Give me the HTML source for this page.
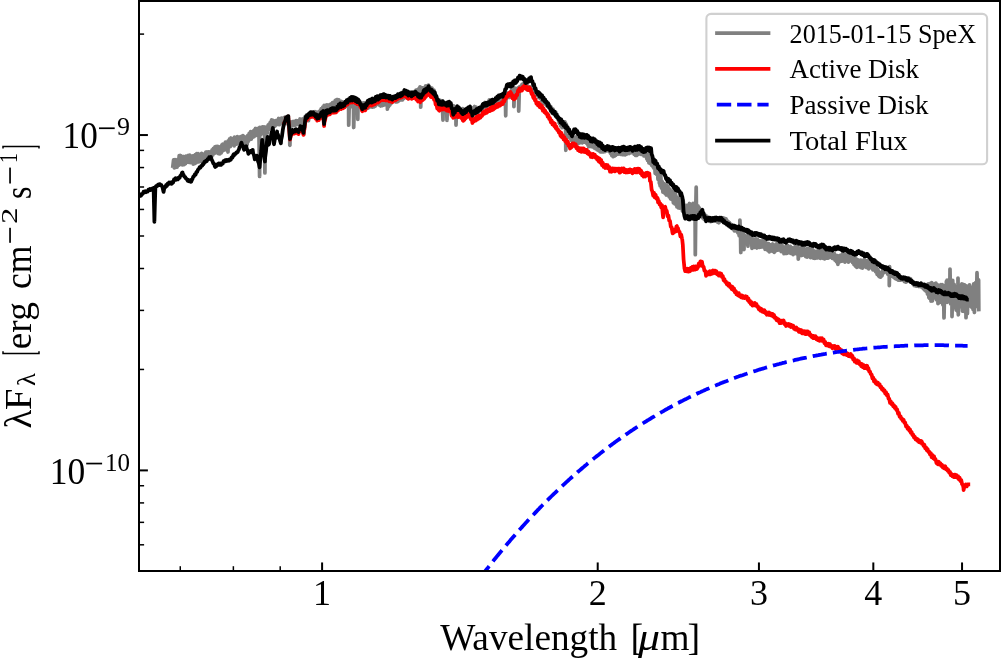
<!DOCTYPE html>
<html><head><meta charset="utf-8"><style>
html,body{margin:0;padding:0;background:#fff;width:1001px;height:658px;overflow:hidden}
svg{display:block;will-change:transform}
text{font-family:"Liberation Serif",serif;fill:#000}
</style></head><body>
<svg width="1001" height="658" viewBox="0 0 1001 658">
<defs><clipPath id="ax"><rect x="138.4" y="1.3" width="861.6" height="569.9000000000001"/></clipPath></defs>
<rect width="1001" height="658" fill="#fff"/>
<g clip-path="url(#ax)" fill="none" stroke-linejoin="round">
<path d="M172.9,166.0 L173.6,159.9 L174.3,167.9 L175.0,159.6 L175.7,167.3 L176.4,160.4 L177.1,167.1 L177.8,159.4 L178.5,165.4 L179.2,155.7 L179.9,163.2 L180.6,155.5 L181.3,164.7 L182.0,158.4 L182.7,164.8 L183.4,156.5 L184.1,164.7 L184.8,156.8 L185.5,163.7 L185.9,156.2 L186.2,161.6 L186.9,156.1 L187.6,162.1 L188.3,155.5 L189.0,162.3 L189.7,155.2 L190.4,162.6 L191.1,157.1 L191.8,162.4 L192.5,156.0 L193.2,164.1 L193.9,155.7 L194.6,163.7 L195.3,154.7 L196.0,162.8 L196.7,153.6 L197.4,161.8 L198.1,153.7 L198.8,161.8 L199.5,155.3 L200.0,161.6 L200.2,154.3 L200.9,161.1 L201.6,153.3 L202.3,160.4 L203.0,154.3 L203.7,160.2 L204.4,153.9 L205.1,158.9 L205.8,152.1 L206.5,158.0 L207.2,152.0 L207.9,158.1 L208.6,151.9 L209.3,158.0 L210.0,152.0 L210.7,157.8 L211.4,151.9 L211.4,157.5 L212.1,149.8 L212.8,155.0 L213.5,148.3 L214.2,153.4 L214.9,147.0 L215.6,152.8 L216.3,146.5 L217.0,152.5 L217.7,146.4 L218.4,153.6 L219.1,147.0 L219.8,153.8 L220.5,146.6 L221.2,152.8 L221.9,144.8 L222.6,150.9 L222.8,144.1 L223.3,150.4 L224.0,144.4 L224.7,149.8 L225.4,142.1 L226.1,148.9 L226.8,142.4 L227.5,147.7 L228.0,152.0 L228.2,140.8 L228.9,146.3 L229.6,138.8 L230.3,145.4 L230.3,146.6 L231.0,138.0 L231.7,144.7 L232.4,139.3 L233.1,144.3 L233.8,139.2 L234.2,145.9 L234.5,137.1 L235.2,144.5 L235.9,138.1 L236.6,144.1 L237.3,136.7 L238.0,143.4 L238.7,137.5 L239.4,142.9 L240.1,137.0 L240.8,143.4 L241.5,136.3 L242.2,142.3 L242.9,135.7 L243.6,142.4 L244.3,136.5 L245.0,142.9 L245.6,137.5 L245.7,143.2 L246.4,137.3 L247.1,144.6 L247.8,135.3 L248.5,141.1 L249.2,133.4 L249.9,139.1 L250.6,131.7 L251.3,139.1 L252.0,131.8 L252.7,137.2 L253.4,130.9 L254.1,136.7 L254.7,129.7 L254.8,134.8 L255.5,128.5 L256.2,135.4 L256.9,128.6 L257.6,134.7 L258.3,128.4 L259.0,136.0 L259.6,176.4 L259.7,127.3 L260.4,134.8 L261.1,127.5 L261.8,133.5 L262.5,126.8 L263.2,133.7 L263.9,126.8 L264.6,134.8 L264.9,172.9 L265.3,127.2 L266.0,132.8 L266.7,127.4 L267.4,133.0 L268.1,125.2 L268.4,130.1 L268.8,124.3 L269.5,128.6 L270.2,122.4 L270.9,125.9 L271.6,119.9 L272.3,126.9 L273.0,120.3 L273.7,126.3 L274.4,121.6 L275.1,126.1 L275.8,120.7 L276.5,124.7 L277.2,120.3 L277.9,124.0 L278.6,118.5 L279.3,124.7 L280.0,118.6 L280.7,123.7 L281.4,118.1 L282.0,122.9 L282.1,118.9 L282.8,123.5 L283.5,117.8 L284.2,122.7 L284.9,117.2 L285.6,122.8 L286.3,118.4 L287.0,123.6 L287.7,120.0 L288.0,124.4 L288.4,121.9 L289.1,125.6 L289.8,122.1 L289.8,145.1 L289.9,145.2 L290.5,125.2 L291.2,122.0 L291.9,125.6 L292.6,122.8 L293.0,125.7 L293.3,121.5 L294.0,125.3 L294.7,121.3 L295.4,125.2 L296.1,120.7 L296.8,124.2 L297.5,120.8 L298.2,124.4 L298.9,120.5 L299.6,123.8 L300.0,119.0 L300.3,123.1 L301.0,119.4 L301.7,122.6 L302.4,119.2 L303.1,122.9 L303.8,118.3 L304.0,134.3 L304.5,120.7 L305.2,116.5 L305.9,118.6 L306.6,114.9 L306.7,118.9 L307.3,115.0 L308.0,117.7 L308.5,120.7 L308.7,114.9 L309.4,117.9 L310.1,113.4 L310.8,116.9 L311.5,113.9 L312.2,116.8 L312.9,113.3 L313.6,116.0 L314.3,112.0 L315.0,114.9 L315.0,111.5 L315.7,116.0 L316.4,112.1 L317.1,115.6 L317.8,112.3 L318.5,115.5 L319.2,111.4 L319.9,115.3 L320.6,109.9 L321.3,113.8 L321.3,108.6 L322.0,111.8 L322.7,107.2 L323.4,109.8 L324.1,105.5 L324.8,109.3 L325.5,105.5 L326.2,109.0 L326.9,104.8 L327.6,108.8 L328.3,105.6 L329.0,109.3 L329.7,104.6 L330.4,108.8 L331.1,103.8 L331.8,107.9 L332.5,102.7 L333.2,106.6 L333.9,102.4 L334.6,104.8 L335.3,100.4 L336.0,103.9 L336.7,99.7 L337.4,103.2 L337.7,99.6 L338.1,103.0 L338.8,99.9 L339.5,104.2 L340.2,101.3 L340.9,104.6 L341.6,101.5 L342.3,106.1 L343.0,102.3 L343.7,106.4 L344.4,102.4 L345.1,105.9 L345.8,102.3 L346.5,106.0 L346.9,101.8 L347.2,105.8 L347.9,101.8 L348.6,105.3 L348.7,125.2 L349.3,102.1 L350.0,106.8 L350.7,103.0 L351.4,106.7 L352.1,103.1 L352.8,106.7 L353.5,103.8 L353.7,127.5 L354.2,106.8 L354.9,103.5 L355.6,107.3 L356.3,103.6 L357.0,106.5 L357.7,102.9 L357.8,119.3 L358.0,106.5 L358.4,101.8 L359.1,106.3 L359.8,102.0 L360.5,107.0 L361.2,103.1 L361.9,106.0 L362.6,103.1 L363.3,106.6 L364.0,102.9 L364.7,106.2 L365.4,102.9 L366.1,108.2 L366.8,104.2 L367.5,108.3 L368.2,104.6 L368.9,106.6 L369.1,101.8 L369.1,107.5 L369.6,105.4 L370.3,102.3 L371.0,106.7 L371.7,103.4 L372.4,107.2 L373.1,103.9 L373.8,106.9 L374.5,102.0 L375.2,106.2 L375.9,101.4 L376.6,104.4 L377.3,100.3 L378.0,104.4 L378.7,100.2 L379.4,105.0 L380.1,101.4 L380.8,106.0 L381.5,102.3 L382.2,105.7 L382.9,102.0 L383.6,105.2 L384.3,101.6 L385.0,104.6 L385.7,101.3 L386.4,105.0 L387.1,102.4 L387.4,106.7 L387.4,109.2 L387.8,103.0 L388.5,106.8 L389.2,102.0 L389.9,105.1 L390.6,100.3 L391.3,103.2 L392.0,98.6 L392.7,101.2 L393.4,97.8 L394.1,100.9 L394.8,97.6 L395.5,101.8 L396.2,98.7 L396.9,101.9 L397.6,97.9 L398.3,101.3 L399.0,96.9 L399.7,100.2 L400.4,96.8 L401.1,99.9 L401.8,95.8 L402.5,99.9 L403.2,95.6 L403.8,98.5 L403.9,94.0 L404.6,96.6 L405.3,93.2 L406.0,96.3 L406.7,92.5 L407.4,96.2 L408.1,92.5 L408.8,96.3 L409.5,92.0 L410.2,95.7 L410.9,91.9 L411.6,96.6 L412.3,93.1 L413.0,96.0 L413.7,92.4 L414.4,95.4 L415.1,91.1 L415.8,94.8 L416.0,90.2 L416.5,93.9 L417.2,89.8 L417.9,93.2 L418.6,88.9 L419.3,91.9 L420.0,86.8 L420.7,91.0 L420.7,107.2 L421.4,87.6 L422.1,90.5 L422.8,88.0 L423.5,91.0 L424.2,87.8 L424.9,90.2 L425.6,86.0 L426.3,89.5 L427.0,86.0 L427.7,89.8 L428.4,85.2 L428.4,89.4 L429.1,86.2 L429.8,90.4 L430.5,87.6 L431.2,91.4 L431.9,88.1 L432.6,93.4 L433.3,90.0 L434.0,94.1 L434.0,90.1 L434.7,96.0 L435.4,94.2 L436.1,99.7 L436.8,97.6 L437.5,103.2 L437.8,100.1 L438.2,103.5 L438.9,100.1 L439.6,103.9 L440.3,100.4 L441.0,105.0 L441.7,101.2 L442.4,106.3 L443.0,120.1 L443.1,104.5 L443.8,109.0 L444.5,106.8 L445.2,110.3 L445.9,107.0 L446.0,110.1 L446.6,106.5 L447.0,120.4 L447.3,109.0 L448.0,105.8 L448.7,109.4 L449.4,105.5 L450.1,108.5 L450.8,105.4 L451.5,108.8 L452.2,105.4 L452.9,109.9 L453.6,105.8 L454.3,110.9 L455.0,107.3 L455.7,111.5 L456.0,107.7 L456.0,125.1 L456.4,112.1 L457.1,108.9 L457.8,113.3 L458.5,109.4 L459.2,113.3 L459.9,109.6 L460.6,112.8 L461.3,109.2 L462.0,112.4 L462.7,108.7 L463.4,113.1 L464.1,109.9 L464.8,113.7 L465.5,110.4 L466.0,114.8 L466.2,110.4 L466.9,114.0 L467.6,109.9 L468.3,114.2 L469.0,110.2 L469.7,113.7 L470.4,110.0 L471.1,113.7 L471.8,109.5 L472.5,112.6 L473.2,107.7 L473.9,110.9 L474.6,106.5 L475.3,111.6 L476.0,107.1 L476.7,111.4 L477.4,108.5 L478.1,112.8 L478.8,108.9 L479.5,111.3 L480.2,107.2 L480.9,110.0 L481.6,105.9 L482.3,109.2 L483.0,104.4 L483.0,108.0 L483.7,103.7 L484.4,107.2 L485.1,102.5 L485.8,107.0 L486.5,103.2 L487.2,105.8 L487.9,102.1 L488.6,104.9 L489.3,99.8 L490.0,103.6 L490.7,99.9 L491.4,103.2 L492.1,99.7 L492.8,103.3 L493.5,99.8 L494.0,104.7 L494.2,101.2 L494.9,105.1 L495.6,101.7 L496.3,104.1 L497.0,100.5 L497.7,103.5 L498.4,99.0 L499.1,102.0 L499.8,97.4 L500.5,100.0 L501.2,95.8 L501.9,99.5 L502.6,94.3 L503.3,97.4 L503.7,94.0 L504.0,97.2 L504.7,92.7 L505.4,96.2 L505.7,115.8 L506.1,92.3 L506.8,96.7 L507.5,93.9 L508.2,97.3 L508.9,93.0 L509.6,97.4 L510.3,92.5 L511.0,94.6 L511.7,89.6 L512.4,92.5 L513.0,87.9 L513.1,91.0 L513.8,86.9 L513.9,106.6 L514.5,91.1 L515.2,89.0 L515.9,92.8 L516.6,88.6 L517.3,92.1 L518.0,87.8 L518.7,91.4 L518.7,111.1 L519.4,87.0 L520.1,89.9 L520.8,86.1 L521.5,88.5 L522.0,84.5 L522.2,88.4 L522.9,83.9 L523.6,87.4 L524.3,83.8 L525.0,87.9 L525.7,84.7 L526.4,88.2 L527.1,85.1 L527.8,90.1 L528.5,86.5 L529.2,90.1 L529.9,86.9 L530.6,91.0 L531.0,88.0 L531.3,92.5 L532.0,89.0 L532.7,93.2 L533.4,89.8 L534.1,94.1 L534.8,90.4 L535.5,94.2 L536.2,90.8 L536.9,95.0 L537.6,92.2 L538.3,97.2 L539.0,93.9 L539.7,97.8 L540.0,93.7 L540.4,98.5 L541.1,96.0 L541.8,101.0 L542.5,98.4 L543.2,103.1 L543.9,99.5 L544.6,103.5 L545.3,100.3 L546.0,105.0 L546.7,102.0 L547.4,106.3 L548.1,102.8 L548.8,107.1 L549.5,105.2 L550.2,109.2 L550.9,106.9 L551.6,111.3 L551.6,108.1 L552.3,112.8 L553.0,109.1 L553.7,113.9 L554.4,111.4 L555.1,114.9 L555.8,112.2 L556.5,117.2 L557.2,114.5 L557.9,119.3 L558.6,118.0 L559.3,123.3 L560.0,121.4 L560.7,125.9 L561.4,123.8 L562.1,127.7 L562.8,123.9 L563.5,126.4 L564.2,122.1 L564.9,125.6 L565.0,121.9 L565.6,126.1 L565.8,150.3 L566.3,124.1 L567.0,130.5 L567.7,128.0 L568.4,134.5 L569.1,133.2 L569.8,138.0 L570.5,135.5 L571.2,140.1 L571.9,137.2 L572.0,140.1 L572.6,136.4 L573.3,140.6 L574.0,136.0 L574.7,139.8 L575.4,137.2 L576.1,141.4 L576.8,138.5 L577.5,143.6 L578.2,140.6 L578.9,143.1 L579.1,138.9 L579.6,142.2 L580.3,137.9 L581.0,142.6 L581.7,138.3 L582.4,142.8 L583.1,138.2 L583.8,142.2 L584.5,138.8 L585.2,142.1 L585.9,139.0 L586.6,143.2 L587.3,141.0 L588.0,145.2 L588.2,142.6 L588.7,146.7 L589.4,142.3 L590.1,146.3 L590.8,143.3 L591.5,146.7 L592.2,143.2 L592.9,146.9 L593.6,143.5 L594.3,147.9 L595.0,144.5 L595.7,148.6 L596.4,145.9 L597.1,149.6 L597.3,145.8 L597.8,150.0 L598.5,146.6 L599.2,150.9 L599.9,147.4 L600.6,151.9 L601.3,147.4 L602.0,151.8 L602.7,147.7 L603.4,151.9 L604.1,148.6 L604.8,151.7 L605.5,147.3 L606.2,150.8 L606.9,147.0 L607.6,150.5 L608.3,147.1 L609.0,151.1 L609.7,149.4 L610.4,153.1 L611.1,150.5 L611.8,155.6 L612.5,152.6 L613.2,156.6 L613.9,152.4 L614.6,156.0 L615.3,152.8 L615.6,155.3 L616.0,151.2 L616.7,154.3 L617.4,150.1 L618.1,154.2 L618.8,150.9 L619.5,153.9 L620.2,150.4 L620.9,154.3 L621.6,150.0 L622.3,154.5 L623.0,150.6 L623.7,154.6 L624.4,150.4 L625.1,154.8 L625.8,151.4 L626.5,154.1 L627.2,150.4 L627.9,153.1 L628.6,149.5 L629.3,153.5 L630.0,148.5 L630.7,152.7 L631.4,148.1 L632.1,152.5 L632.8,149.3 L633.5,153.1 L633.8,149.6 L634.2,154.4 L634.9,151.4 L635.6,155.4 L636.3,151.2 L637.0,155.3 L637.7,151.0 L638.4,154.1 L639.1,149.7 L639.8,153.3 L640.5,149.4 L641.2,154.4 L641.9,149.2 L642.6,154.6 L643.3,150.3 L644.0,155.9 L644.7,151.0 L645.4,156.2 L646.1,152.5 L646.8,158.7 L647.5,153.0 L647.5,160.3 L648.2,155.5 L648.9,162.8 L649.6,155.6 L650.3,163.5 L651.0,158.0 L651.7,165.4 L652.4,159.3 L653.0,166.9 L653.1,159.8 L653.8,168.0 L654.5,162.4 L655.2,173.4 L655.9,165.7 L656.6,174.4 L657.3,168.0 L658.0,179.3 L658.7,172.4 L659.4,183.5 L660.0,174.3 L660.1,185.8 L660.8,176.3 L661.5,188.1 L662.2,181.7 L662.9,192.2 L663.6,183.3 L664.3,192.8 L665.0,184.2 L665.7,194.1 L666.3,187.2 L666.4,195.0 L667.1,185.3 L667.8,194.4 L668.5,187.6 L669.2,196.9 L669.9,189.0 L670.6,198.8 L671.3,191.1 L672.0,199.6 L672.7,191.7 L673.4,202.9 L674.1,193.4 L674.8,203.9 L675.5,193.6 L676.2,204.9 L676.9,197.2 L676.9,206.8 L677.6,198.9 L678.3,207.9 L679.0,198.2 L679.7,208.2 L680.4,198.0 L681.1,207.2 L681.8,198.9 L682.5,211.1 L683.2,200.8 L683.9,211.7 L684.0,204.8 L684.6,213.6 L685.3,205.4 L686.0,214.5 L686.7,205.5 L687.4,214.6 L688.1,205.2 L688.8,213.7 L689.5,203.5 L690.2,213.4 L690.9,205.8 L691.6,214.5 L692.0,204.7 L692.3,212.1 L693.0,203.4 L693.7,212.5 L694.4,205.3 L695.1,216.1 L695.3,254.7 L695.8,207.9 L696.2,187.2 L696.5,217.3 L697.2,209.1 L697.9,218.4 L698.0,205.8 L698.6,215.7 L699.3,207.8 L700.0,214.0 L700.7,210.5 L701.4,216.0 L702.1,213.0 L702.8,217.9 L703.5,216.2 L704.2,219.4 L704.9,216.3 L705.0,219.7 L705.6,215.4 L706.3,219.0 L707.0,216.2 L707.7,219.7 L708.4,217.8 L709.1,221.0 L709.8,218.4 L710.5,221.5 L711.2,218.5 L711.9,221.3 L712.6,218.5 L713.3,221.2 L714.0,218.2 L714.7,221.1 L715.4,217.8 L716.1,221.0 L716.8,219.1 L717.5,222.1 L718.2,220.1 L718.9,222.8 L719.5,219.2 L719.6,221.9 L720.3,218.4 L721.0,221.1 L721.7,218.3 L722.4,220.9 L723.1,217.9 L723.8,221.2 L724.5,218.4 L725.2,221.4 L725.9,218.9 L726.0,222.5 L726.6,219.8 L727.3,223.8 L728.0,221.6 L728.7,225.6 L729.4,222.6 L730.1,227.0 L730.8,224.1 L731.5,227.7 L732.2,225.5 L732.9,229.0 L733.6,226.8 L734.3,230.8 L735.0,227.8 L735.7,230.6 L736.4,227.8 L737.0,231.5 L737.1,227.6 L737.8,232.7 L738.5,230.7 L739.2,235.7 L739.9,233.2 L739.9,220.0 L740.6,238.2 L740.8,252.5 L741.0,231.8 L741.3,238.7 L742.0,232.1 L742.7,238.9 L743.4,233.8 L744.0,249.6 L744.1,240.2 L744.8,235.0 L745.4,242.8 L745.5,236.1 L746.2,243.5 L746.9,236.4 L747.6,243.4 L748.0,246.2 L748.3,235.2 L749.0,242.0 L749.7,234.7 L750.4,242.2 L751.1,236.1 L751.8,243.7 L752.0,248.3 L752.5,238.6 L753.2,246.9 L753.9,239.5 L754.5,247.4 L754.6,239.9 L755.3,245.8 L756.0,238.9 L756.7,245.8 L757.0,248.0 L757.4,239.3 L758.1,246.7 L758.8,240.6 L759.5,247.4 L760.2,240.8 L760.9,247.1 L761.6,241.1 L762.3,246.9 L763.0,239.9 L763.7,247.0 L764.4,241.0 L765.1,249.4 L765.8,242.4 L766.5,248.5 L767.2,243.5 L767.9,250.5 L768.6,243.7 L769.3,251.8 L770.0,245.1 L770.7,250.2 L771.4,244.7 L772.1,251.1 L772.7,244.0 L772.8,250.8 L773.5,246.1 L774.2,252.4 L774.9,245.4 L775.6,250.8 L776.3,243.8 L777.0,250.1 L777.7,244.0 L778.4,250.0 L779.1,242.4 L779.8,250.0 L780.5,244.3 L781.2,251.6 L781.9,244.6 L782.6,251.3 L783.3,246.9 L784.0,253.7 L784.7,248.1 L785.4,253.4 L786.1,246.2 L786.8,253.3 L787.5,245.3 L788.2,251.3 L788.9,246.5 L789.6,252.8 L790.3,246.3 L791.0,253.3 L791.0,247.5 L791.7,252.9 L792.4,247.9 L793.1,254.6 L793.8,248.1 L794.5,253.4 L795.2,246.5 L795.9,253.5 L796.6,246.4 L797.3,254.0 L798.0,247.4 L798.3,259.2 L798.7,254.6 L799.4,248.4 L800.1,254.8 L800.8,247.9 L801.5,255.5 L802.2,247.6 L802.9,255.1 L803.6,248.3 L804.3,254.8 L805.0,250.2 L805.7,256.5 L806.4,248.9 L807.1,257.1 L807.8,248.7 L808.5,256.4 L809.2,248.7 L809.2,256.2 L809.9,248.8 L810.6,257.6 L811.3,249.4 L812.0,256.5 L812.7,249.5 L813.4,258.1 L814.1,250.9 L814.8,258.3 L815.5,252.2 L816.2,258.0 L816.9,251.2 L817.6,257.9 L818.3,250.8 L819.0,257.3 L819.7,250.4 L820.4,258.4 L821.1,249.7 L821.8,256.4 L822.5,249.8 L823.2,258.3 L823.9,252.2 L824.6,258.9 L825.3,250.9 L826.0,258.2 L826.7,251.7 L827.4,257.6 L827.5,251.7 L828.1,258.1 L828.8,251.5 L829.5,257.4 L830.2,250.3 L830.9,257.2 L831.6,252.5 L832.3,258.4 L833.0,253.0 L833.7,258.7 L834.4,253.6 L835.1,260.2 L835.8,255.3 L836.5,261.7 L837.2,255.7 L837.9,264.4 L838.6,258.0 L839.3,262.1 L840.0,255.3 L840.7,261.3 L841.4,254.9 L842.1,261.2 L842.8,253.6 L843.5,260.6 L844.2,255.1 L844.9,262.1 L845.6,254.5 L845.7,261.1 L846.3,254.8 L847.0,260.8 L847.7,255.5 L848.4,262.1 L849.1,255.6 L849.8,261.0 L850.5,255.0 L851.2,260.7 L851.9,255.9 L852.6,262.6 L853.3,258.3 L854.0,264.5 L854.7,258.2 L855.4,266.2 L856.1,258.9 L856.8,267.3 L857.5,259.6 L858.2,266.3 L858.9,260.7 L859.6,266.9 L860.3,260.1 L861.0,267.7 L861.7,260.4 L862.4,268.1 L863.1,260.8 L863.8,266.1 L864.5,259.2 L865.2,266.9 L865.9,260.6 L866.6,267.5 L867.3,260.9 L867.6,267.1 L868.0,260.8 L868.7,268.9 L869.4,262.0 L870.1,267.4 L870.8,260.2 L871.5,267.8 L872.2,262.0 L872.9,269.9 L873.6,263.9 L874.3,270.0 L875.0,265.0 L875.7,271.7 L876.4,267.4 L877.1,274.3 L877.8,269.6 L878.4,275.6 L878.5,270.9 L879.2,276.5 L879.9,272.5 L880.6,277.1 L881.3,272.5 L882.0,275.8 L882.7,270.7 L883.4,272.9 L884.1,267.5 L884.8,272.1 L885.5,267.0 L886.2,271.9 L886.9,269.4 L887.6,274.0 L888.3,270.9 L889.0,274.3 L889.3,271.1 L889.3,285.5 L889.6,266.7 L889.7,274.1 L890.4,271.6 L891.1,275.3 L891.8,272.6 L892.5,276.0 L893.2,274.7 L893.9,277.6 L894.6,276.0 L895.3,278.5 L896.0,276.9 L896.7,279.2 L897.4,277.5 L898.1,280.0 L898.8,277.5 L899.5,280.2 L900.2,278.0 L900.9,280.0 L901.6,277.6 L902.0,279.3 L902.3,277.4 L903.0,280.0 L903.7,278.6 L904.4,281.5 L905.1,279.4 L905.8,282.1 L906.5,279.1 L907.2,281.4 L907.9,278.2 L908.6,280.4 L909.3,278.3 L910.0,280.2 L910.7,278.9 L911.4,281.6 L912.1,281.0 L912.8,283.8 L913.5,282.6 L914.2,285.7 L914.9,283.7 L915.0,285.7 L915.6,283.9 L916.3,286.2 L917.0,284.1 L917.7,286.1 L918.4,284.0 L919.1,286.5 L919.8,284.2 L920.5,286.5 L921.2,284.5 L921.9,287.2 L922.6,285.4 L923.3,288.7 L924.0,287.3 L924.7,290.0 L925.4,286.8 L926.1,291.2 L926.8,285.0 L927.5,294.1 L928.2,283.8 L928.9,297.6 L929.0,285.9 L929.6,298.4 L930.3,283.3 L931.0,301.1 L931.7,282.6 L932.4,301.0 L933.1,285.5 L933.8,296.9 L934.5,284.0 L935.2,298.0 L935.9,283.2 L936.6,299.9 L937.3,284.6 L938.0,303.7 L938.0,285.3 L938.7,300.5 L939.4,285.8 L940.1,302.3 L940.8,284.6 L941.5,300.5 L942.2,284.6 L942.9,304.9 L943.6,286.3 L944.0,317.9 L944.3,304.3 L945.0,285.6 L945.7,301.7 L946.4,281.3 L947.0,302.3 L947.1,280.1 L947.8,298.7 L948.5,281.8 L949.2,298.9 L949.9,282.0 L950.0,269.1 L950.6,303.8 L951.3,284.4 L952.0,300.6 L952.0,316.5 L952.7,280.4 L953.4,306.1 L954.1,284.3 L954.8,307.9 L955.5,289.6 L956.2,310.2 L956.9,286.6 L957.6,311.4 L958.0,293.4 L958.0,278.1 L958.3,314.8 L959.0,286.8 L959.7,307.2 L960.4,287.9 L961.1,306.9 L961.8,283.9 L962.5,311.2 L963.2,284.3 L963.9,311.3 L964.6,284.8 L965.0,309.0 L965.3,290.6 L966.0,314.1 L966.0,317.7 L966.7,286.0 L967.4,313.7 L968.1,286.6 L968.8,305.4 L969.5,284.8 L970.2,306.1 L970.9,287.2 L971.6,307.3 L972.3,287.1 L973.0,309.5 L973.7,283.8 L974.4,312.5 L975.0,287.1 L975.1,304.5 L975.8,282.5 L976.5,305.6 L977.0,272.7 L977.2,281.8 L977.9,306.9 L978.6,279.9 L978.8,309.5" stroke="#808080" stroke-width="3.75" stroke-linecap="square"/>
<path d="M284.4,122.9 L285.2,121.5 L285.7,119.7 L286.0,117.8 L286.8,118.8 L287.6,116.8 L288.3,116.6 L288.4,119.5 L289.2,129.2 L289.9,138.5 L290.0,139.6 L290.8,135.8 L291.6,134.5 L292.1,132.9 L292.4,131.5 L293.2,133.8 L294.0,132.4 L294.8,133.4 L295.6,131.2 L295.8,131.1 L296.4,132.9 L297.2,131.8 L298.0,133.8 L298.5,134.0 L298.8,131.5 L299.6,131.7 L300.4,128.2 L301.2,128.3 L301.2,128.3 L302.0,128.9 L302.8,132.7 L303.5,134.9 L303.6,132.1 L304.4,129.5 L305.2,122.3 L305.8,118.7 L306.0,121.0 L306.8,117.6 L307.6,119.2 L308.4,116.2 L309.2,117.5 L310.0,114.7 L310.4,114.3 L310.8,116.9 L311.6,114.2 L312.4,116.5 L313.2,114.2 L314.0,117.1 L314.8,115.9 L315.0,115.9 L315.6,118.7 L316.4,116.4 L317.2,120.6 L318.0,117.8 L318.6,118.0 L318.8,120.2 L319.6,116.8 L320.4,118.2 L321.2,114.3 L322.0,116.4 L322.8,113.4 L323.1,113.1 L323.6,120.5 L324.1,126.0 L324.4,122.1 L325.2,119.6 L325.9,115.4 L326.0,112.6 L326.8,115.7 L327.6,112.2 L328.4,114.7 L329.2,112.2 L330.0,114.3 L330.8,110.8 L331.6,112.5 L332.4,110.1 L333.2,112.8 L333.2,112.8 L334.0,110.1 L334.8,112.6 L335.6,110.1 L336.4,112.2 L337.2,108.7 L338.0,110.6 L338.8,106.3 L339.6,108.2 L340.4,105.4 L341.2,109.1 L342.0,106.3 L342.3,106.2 L342.8,108.4 L343.6,105.3 L344.4,107.5 L345.2,103.7 L346.0,105.2 L346.8,102.0 L346.9,102.0 L347.6,104.6 L348.4,101.4 L349.2,102.7 L350.0,99.9 L350.8,102.5 L351.6,99.0 L352.4,102.5 L353.2,99.0 L354.0,101.7 L354.2,101.6 L354.8,99.5 L355.6,103.2 L356.4,100.2 L357.2,104.1 L358.0,101.4 L358.7,102.1 L358.8,104.7 L359.6,103.6 L360.4,107.1 L361.2,106.3 L362.0,110.7 L362.4,111.3 L362.8,107.9 L363.6,110.3 L364.4,107.5 L365.2,110.4 L366.0,106.3 L366.8,108.0 L367.6,103.8 L368.4,106.0 L369.1,105.4 L369.2,102.8 L370.0,105.4 L370.8,102.5 L371.6,105.6 L372.4,101.5 L373.2,104.9 L374.0,102.0 L374.8,104.3 L375.6,99.9 L376.4,102.9 L377.2,99.2 L378.0,102.7 L378.2,102.6 L378.8,99.2 L379.6,101.4 L380.4,98.1 L381.2,100.2 L382.0,97.9 L382.8,100.1 L383.6,97.1 L384.4,100.2 L385.2,97.7 L386.0,100.5 L386.8,98.5 L387.4,98.5 L387.6,100.4 L388.4,98.5 L389.2,101.4 L390.0,98.7 L390.8,101.5 L391.6,99.6 L392.4,102.2 L393.2,99.0 L393.8,99.1 L394.0,100.5 L394.8,98.5 L395.6,100.3 L396.4,97.8 L397.2,99.2 L398.0,96.0 L398.8,98.1 L399.6,95.4 L400.4,97.8 L401.0,97.3 L401.2,94.4 L402.0,97.3 L402.8,94.7 L403.6,96.4 L404.4,93.0 L405.2,96.3 L406.0,94.4 L406.8,97.9 L407.4,98.1 L407.6,94.9 L408.4,98.8 L409.2,95.6 L410.0,97.9 L410.8,95.6 L411.6,98.9 L412.4,95.2 L413.2,98.1 L414.0,95.6 L414.0,95.6 L414.8,98.0 L415.6,96.3 L416.4,99.7 L417.2,98.5 L418.0,101.5 L418.8,98.9 L419.6,101.8 L420.2,102.2 L420.4,99.9 L421.2,101.0 L422.0,98.2 L422.8,100.1 L423.6,96.8 L424.4,98.7 L425.2,94.9 L426.0,96.7 L426.8,92.7 L427.5,92.0 L427.6,94.1 L428.4,91.4 L429.2,95.1 L430.0,94.1 L430.8,96.9 L431.2,97.1 L431.6,94.9 L432.4,97.4 L433.2,94.8 L433.2,94.8 L434.0,99.7 L434.8,98.7 L435.6,104.5 L436.4,104.5 L436.6,105.2 L437.2,108.5 L438.0,105.9 L438.8,110.1 L439.4,110.7 L439.6,107.5 L440.4,109.7 L440.5,109.5 L441.2,107.0 L442.0,109.6 L442.8,106.0 L443.6,109.3 L444.4,107.2 L445.2,109.5 L446.0,108.0 L446.0,108.0 L446.8,110.7 L447.6,107.4 L448.4,111.0 L449.2,107.4 L450.0,110.0 L450.1,110.0 L450.8,110.6 L451.6,115.8 L452.4,115.8 L452.4,115.8 L453.2,117.7 L454.0,114.3 L454.8,117.1 L455.6,113.4 L456.0,113.0 L456.4,116.2 L457.2,113.9 L458.0,117.2 L458.8,114.0 L459.6,116.7 L460.4,115.2 L461.2,118.0 L462.0,116.4 L462.8,120.5 L463.3,120.8 L463.6,117.5 L464.4,119.8 L465.2,115.6 L466.0,118.2 L466.8,114.7 L467.6,116.9 L468.4,114.2 L469.2,116.0 L469.7,115.8 L470.0,113.7 L470.8,119.3 L471.6,118.6 L472.4,123.0 L472.4,123.0 L473.2,119.5 L474.0,121.3 L474.8,118.1 L475.6,120.6 L476.4,116.6 L477.2,119.7 L478.0,115.9 L478.8,118.6 L479.6,115.5 L479.7,115.4 L480.4,117.8 L481.2,115.2 L482.0,116.0 L482.8,112.5 L483.6,114.0 L484.4,111.3 L485.2,113.4 L486.0,110.3 L486.8,112.7 L487.0,112.6 L487.6,109.6 L488.4,111.4 L489.2,108.8 L490.0,111.0 L490.8,107.4 L491.6,110.3 L492.4,106.5 L493.2,109.7 L494.0,106.7 L494.3,106.5 L494.8,108.4 L495.6,105.3 L496.4,107.3 L497.2,104.5 L498.0,106.8 L498.8,103.8 L499.6,105.7 L500.0,105.6 L500.4,103.4 L501.2,104.7 L502.0,102.2 L502.8,104.0 L503.6,100.1 L503.7,100.0 L504.4,101.3 L505.2,97.5 L506.0,98.3 L506.8,95.3 L507.6,96.5 L508.4,93.7 L509.2,95.5 L510.0,92.4 L510.5,91.9 L510.8,95.7 L511.6,93.7 L512.4,98.3 L513.2,95.7 L513.9,96.9 L514.0,99.5 L514.8,96.1 L515.6,98.2 L516.4,94.6 L517.2,95.2 L518.0,90.7 L518.7,89.7 L518.8,91.5 L519.6,88.3 L520.4,91.0 L521.2,88.3 L522.0,90.5 L522.8,86.9 L523.6,88.1 L524.2,87.5 L524.4,85.4 L525.2,88.4 L526.0,86.0 L526.8,89.5 L527.6,87.5 L528.4,90.1 L529.2,87.4 L529.7,87.7 L530.0,90.2 L530.8,89.3 L531.6,94.0 L532.4,93.3 L533.2,97.3 L533.8,98.4 L534.0,96.0 L534.8,100.1 L535.6,99.7 L536.4,103.6 L537.2,102.6 L538.0,105.4 L538.8,102.7 L539.6,107.0 L540.4,104.6 L540.6,104.8 L541.2,107.8 L542.0,106.0 L542.8,110.6 L543.6,108.4 L544.4,112.2 L545.2,110.7 L546.0,113.9 L546.8,113.0 L547.5,114.0 L547.6,116.8 L548.4,115.0 L549.2,118.8 L550.0,118.1 L550.8,122.1 L551.6,120.5 L552.4,124.3 L553.2,122.4 L554.0,125.7 L554.3,126.1 L554.8,123.7 L555.6,128.0 L556.4,126.7 L557.2,130.1 L558.0,129.4 L558.8,132.6 L559.6,131.3 L560.4,135.5 L561.1,136.5 L561.2,132.6 L562.0,137.3 L562.8,135.2 L563.6,139.3 L564.4,137.3 L565.2,141.2 L566.0,139.5 L566.8,143.1 L567.6,141.5 L568.0,142.1 L568.4,145.7 L569.2,144.3 L570.0,148.5 L570.0,148.5 L570.8,145.5 L571.6,147.2 L572.4,143.3 L573.2,145.4 L573.6,145.0 L574.0,143.4 L574.8,146.2 L575.6,144.2 L576.4,148.0 L577.2,146.8 L577.3,146.9 L578.0,150.1 L578.8,147.9 L579.6,151.2 L580.4,148.4 L581.2,151.9 L582.0,148.3 L582.8,151.5 L583.6,148.3 L583.7,148.3 L584.4,152.0 L585.2,149.5 L586.0,152.3 L586.8,149.9 L587.6,153.5 L588.2,153.9 L588.4,151.4 L589.2,154.5 L590.0,153.2 L590.8,156.8 L591.6,154.6 L592.4,157.3 L593.2,153.8 L594.0,156.4 L594.8,154.8 L595.6,157.8 L596.4,156.5 L597.2,159.6 L597.3,159.7 L598.0,157.5 L598.8,161.5 L599.6,158.5 L600.4,162.7 L601.2,160.1 L602.0,165.1 L602.8,162.8 L603.6,166.8 L604.4,165.3 L605.2,168.0 L606.0,164.9 L606.5,165.3 L606.8,167.8 L607.6,165.1 L608.4,168.5 L609.2,166.9 L610.0,171.7 L610.8,169.8 L611.0,170.0 L611.6,171.7 L612.4,168.3 L613.2,170.9 L614.0,168.6 L614.8,171.4 L615.6,168.7 L616.4,170.6 L617.2,168.7 L618.0,170.9 L618.8,168.6 L619.6,172.5 L620.1,172.5 L620.4,169.0 L621.2,171.7 L622.0,168.5 L622.8,171.1 L623.6,168.4 L624.4,172.1 L625.2,169.5 L626.0,172.5 L626.8,170.3 L627.6,172.4 L628.4,169.8 L629.2,172.2 L629.3,172.2 L630.0,169.4 L630.8,171.7 L631.6,169.9 L632.4,173.3 L633.2,170.2 L634.0,172.3 L634.8,169.0 L635.6,172.4 L636.4,169.0 L637.2,172.4 L638.0,168.5 L638.4,168.5 L638.8,171.9 L639.6,169.0 L640.4,173.2 L641.2,170.7 L642.0,175.3 L642.8,173.0 L643.6,176.6 L644.4,173.9 L645.0,174.1 L645.2,176.6 L646.0,172.8 L646.8,175.2 L647.6,172.8 L648.4,175.6 L649.2,173.3 L649.3,173.3 L650.0,181.0 L650.8,181.8 L651.6,189.5 L652.4,191.6 L652.4,191.6 L653.2,195.6 L654.0,192.9 L654.8,197.4 L655.6,194.7 L656.4,198.5 L657.2,197.7 L657.8,198.5 L658.0,202.4 L658.8,200.9 L659.6,204.5 L660.4,203.6 L661.2,207.3 L662.0,205.3 L662.0,205.3 L662.8,214.6 L663.1,217.3 L663.6,210.8 L664.4,208.2 L664.5,207.3 L665.2,206.8 L666.0,210.5 L666.3,210.8 L666.8,210.9 L667.6,216.3 L668.4,215.6 L669.2,220.8 L670.0,220.9 L670.8,226.8 L671.6,227.2 L672.4,232.3 L672.7,233.4 L673.2,230.6 L674.0,232.6 L674.8,229.3 L675.6,231.4 L676.4,226.5 L676.9,226.1 L677.2,229.7 L678.0,228.1 L678.8,231.6 L679.6,231.8 L680.4,236.4 L681.2,234.7 L682.0,238.6 L682.2,239.1 L682.8,244.7 L683.6,259.6 L684.4,267.5 L684.4,268.1 L685.2,271.2 L686.0,268.9 L686.8,271.2 L687.6,268.7 L688.4,271.7 L689.2,268.9 L690.0,271.3 L690.8,267.9 L691.6,269.7 L691.8,269.6 L692.4,267.0 L693.2,269.9 L694.0,266.5 L694.8,269.7 L695.6,266.3 L696.4,269.2 L697.1,269.0 L697.2,266.6 L698.0,267.3 L698.8,263.4 L699.6,265.8 L700.4,261.3 L701.2,263.0 L701.4,262.6 L702.0,261.8 L702.8,266.5 L703.6,266.5 L704.4,270.6 L705.2,270.8 L705.6,272.3 L706.0,275.8 L706.8,272.4 L707.6,274.6 L708.4,272.2 L709.2,274.4 L710.0,271.2 L710.8,274.3 L711.6,271.2 L712.4,273.7 L713.2,270.5 L714.0,272.8 L714.8,270.6 L715.6,273.4 L716.4,271.3 L717.2,274.3 L718.0,273.1 L718.8,275.6 L719.5,275.6 L719.6,273.2 L720.4,275.2 L721.2,273.7 L722.0,277.2 L722.8,276.1 L723.6,280.1 L724.4,279.0 L725.2,281.9 L726.0,281.6 L726.8,284.3 L727.6,283.3 L728.0,283.5 L728.4,285.7 L729.2,283.8 L730.0,287.1 L730.8,286.1 L731.6,289.1 L732.4,286.8 L733.2,290.0 L734.0,288.5 L734.8,292.1 L735.6,291.0 L736.2,292.0 L736.4,294.3 L737.2,293.1 L738.0,295.4 L738.8,293.1 L739.6,296.4 L740.4,295.1 L741.2,297.4 L742.0,295.5 L742.8,297.8 L743.6,296.3 L744.4,298.0 L745.2,296.5 L745.4,296.3 L746.0,298.0 L746.8,296.7 L747.6,300.2 L748.4,298.5 L749.2,302.0 L750.0,300.8 L750.8,304.1 L751.6,302.3 L752.4,305.6 L753.2,303.5 L754.0,305.3 L754.5,305.4 L754.8,302.8 L755.6,305.6 L756.4,303.9 L757.2,306.8 L758.0,306.5 L758.8,309.3 L759.6,308.1 L760.4,310.6 L761.2,308.7 L762.0,311.6 L762.8,309.9 L763.6,312.1 L763.6,312.0 L764.4,310.3 L765.2,313.1 L766.0,311.9 L766.8,314.8 L767.6,313.0 L768.4,314.7 L769.2,312.5 L770.0,315.0 L770.8,313.4 L771.6,315.5 L772.4,313.8 L772.7,313.8 L773.2,316.5 L774.0,315.0 L774.8,317.9 L775.6,317.4 L776.0,318.0 L776.4,320.0 L777.2,318.5 L778.0,320.9 L778.8,319.4 L779.6,323.1 L780.4,320.8 L781.2,323.0 L782.0,320.7 L782.8,322.6 L783.6,320.5 L784.4,324.0 L785.2,322.9 L786.0,326.0 L786.8,324.0 L787.6,325.4 L788.4,324.0 L789.2,325.9 L790.0,324.5 L790.8,327.0 L791.2,326.9 L791.6,325.0 L792.4,327.1 L793.2,325.7 L794.0,328.8 L794.8,327.4 L795.6,329.6 L796.4,327.5 L797.2,330.0 L798.0,328.9 L798.8,331.8 L799.6,329.7 L800.4,332.1 L801.2,330.1 L802.0,333.3 L802.8,331.0 L803.6,333.4 L804.4,331.3 L805.2,334.1 L806.0,331.4 L806.4,331.5 L806.8,334.0 L807.6,331.3 L808.4,334.2 L809.2,332.2 L810.0,335.7 L810.8,334.7 L811.6,337.0 L812.4,335.6 L813.2,338.2 L814.0,336.1 L814.8,338.1 L815.6,336.3 L816.4,339.3 L817.2,337.8 L818.0,340.1 L818.8,338.7 L819.6,340.7 L820.4,338.2 L821.2,340.4 L821.6,340.7 L822.0,338.2 L822.8,340.9 L823.6,339.4 L824.4,343.1 L825.2,341.8 L826.0,345.4 L826.8,344.0 L827.6,345.6 L828.4,343.8 L829.2,346.3 L830.0,344.1 L830.8,346.7 L831.6,346.0 L832.4,348.2 L833.2,346.0 L834.0,347.7 L834.8,346.0 L835.6,349.1 L836.4,346.8 L836.8,347.0 L837.2,348.9 L838.0,346.8 L838.8,349.6 L839.6,348.7 L840.4,351.1 L841.2,349.9 L842.0,353.3 L842.8,351.1 L843.6,354.3 L844.4,351.9 L845.2,354.4 L846.0,352.4 L846.8,355.1 L847.6,353.4 L848.4,356.0 L849.2,354.4 L850.0,356.3 L850.8,354.0 L851.6,357.0 L852.0,357.4 L852.4,355.9 L853.2,359.5 L854.0,358.3 L854.8,361.7 L855.6,360.1 L856.4,362.8 L857.2,360.4 L858.0,363.0 L858.8,361.2 L859.6,364.2 L860.4,363.6 L861.2,366.1 L862.0,364.1 L862.8,367.2 L863.6,365.0 L864.4,368.2 L865.2,365.8 L866.0,368.0 L866.8,365.8 L867.2,366.0 L867.6,369.0 L868.4,368.1 L869.2,371.5 L870.0,371.5 L870.8,374.3 L871.6,374.5 L872.4,378.3 L873.2,377.5 L874.0,381.3 L874.8,379.8 L875.6,383.0 L876.3,383.9 L876.4,382.1 L877.2,384.4 L878.0,382.8 L878.8,385.0 L879.6,384.3 L880.4,387.3 L881.2,386.7 L882.0,389.5 L882.8,388.4 L883.6,390.9 L884.4,390.2 L885.2,393.5 L886.0,392.1 L886.8,395.4 L887.6,394.5 L888.4,398.0 L888.5,398.6 L889.2,398.7 L890.0,402.9 L890.8,401.5 L891.6,404.3 L892.4,403.3 L893.2,406.4 L894.0,405.3 L894.8,408.1 L895.6,406.9 L896.4,410.0 L897.2,409.5 L898.0,413.6 L898.8,412.7 L899.6,416.7 L900.4,416.1 L900.6,416.3 L901.2,418.8 L902.0,418.6 L902.8,420.9 L903.6,419.8 L904.4,422.8 L905.2,422.7 L906.0,426.4 L906.8,425.7 L907.6,428.8 L908.4,427.5 L909.2,430.4 L909.7,431.0 L910.0,429.4 L910.8,432.9 L911.6,431.9 L912.4,435.0 L913.2,434.6 L914.0,437.6 L914.8,436.8 L915.6,439.4 L916.4,438.4 L917.2,440.6 L918.0,439.3 L918.8,442.0 L919.6,440.7 L920.4,442.6 L921.2,440.9 L921.9,441.7 L922.0,443.9 L922.8,443.4 L923.6,445.8 L924.4,444.8 L925.2,448.4 L926.0,447.2 L926.8,450.3 L927.6,449.1 L928.4,451.9 L929.2,451.6 L930.0,454.4 L930.8,453.1 L931.6,457.0 L932.4,455.1 L933.2,458.3 L934.0,456.2 L934.8,459.6 L935.6,459.3 L936.4,462.9 L937.1,463.6 L937.2,461.9 L938.0,464.2 L938.8,461.8 L939.6,464.4 L940.4,463.3 L941.2,465.9 L942.0,464.8 L942.8,467.6 L943.6,466.1 L944.4,468.4 L945.2,466.2 L946.0,469.3 L946.8,468.4 L947.6,470.7 L948.4,469.9 L949.2,472.7 L950.0,471.9 L950.8,475.2 L951.6,474.0 L952.3,474.6 L952.4,476.4 L953.2,474.7 L954.0,477.2 L954.8,474.6 L955.6,477.1 L956.4,475.1 L957.2,477.6 L958.0,476.5 L958.0,476.0 L958.8,479.3 L959.6,477.7 L960.4,481.0 L961.2,479.9 L962.0,483.6 L962.0,484.2 L962.8,484.9 L963.5,487.8 L963.6,490.2 L964.4,486.3 L965.0,484.9 L965.2,486.6 L966.0,484.4 L966.8,486.4 L967.6,484.3 L968.3,484.3" stroke="#ff0000" stroke-width="3.75" stroke-linecap="square"/>
<path d="M426.4,656.6 L427.8,654.4 L429.1,652.2 L430.5,650.0 L431.8,647.9 L433.2,645.7 L434.6,643.6 L435.9,641.4 L437.3,639.3 L438.6,637.2 L440.0,635.1 L441.3,633.0 L442.7,631.0 L444.1,628.9 L445.4,626.9 L446.8,624.8 L448.1,622.8 L449.5,620.8 L450.8,618.8 L452.2,616.8 L453.5,614.8 L454.9,612.8 L456.3,610.8 L457.6,608.9 L459.0,606.9 L460.3,605.0 L461.7,603.0 L463.0,601.1 L464.4,599.2 L465.8,597.3 L467.1,595.4 L468.5,593.6 L469.8,591.7 L471.2,589.8 L472.5,588.0 L473.9,586.2 L475.2,584.3 L476.6,582.5 L478.0,580.7 L479.3,578.9 L480.7,577.1 L482.0,575.3 L483.4,573.6 L484.7,571.8 L486.1,570.0 L487.5,568.3 L488.8,566.6 L490.2,564.9 L491.5,563.1 L492.9,561.4 L494.2,559.7 L495.6,558.1 L496.9,556.4 L498.3,554.7 L499.7,553.1 L501.0,551.4 L502.4,549.8 L503.7,548.1 L505.1,546.5 L506.4,544.9 L507.8,543.3 L509.2,541.7 L510.5,540.1 L511.9,538.5 L513.2,537.0 L514.6,535.4 L515.9,533.9 L517.3,532.3 L518.6,530.8 L520.0,529.3 L521.4,527.8 L522.7,526.2 L524.1,524.7 L525.4,523.3 L526.8,521.8 L528.1,520.3 L529.5,518.8 L530.9,517.4 L532.2,515.9 L533.6,514.5 L534.9,513.1 L536.3,511.6 L537.6,510.2 L539.0,508.8 L540.3,507.4 L541.7,506.0 L543.1,504.7 L544.4,503.3 L545.8,501.9 L547.1,500.6 L548.5,499.2 L549.8,497.9 L551.2,496.5 L552.6,495.2 L553.9,493.9 L555.3,492.6 L556.6,491.3 L558.0,490.0 L559.3,488.7 L560.7,487.4 L562.0,486.2 L563.4,484.9 L564.8,483.6 L566.1,482.4 L567.5,481.2 L568.8,479.9 L570.2,478.7 L571.5,477.5 L572.9,476.3 L574.3,475.1 L575.6,473.9 L577.0,472.7 L578.3,471.5 L579.7,470.3 L581.0,469.2 L582.4,468.0 L583.8,466.9 L585.1,465.7 L586.5,464.6 L587.8,463.4 L589.2,462.3 L590.5,461.2 L591.9,460.1 L593.2,459.0 L594.6,457.9 L596.0,456.8 L597.3,455.7 L598.7,454.7 L600.0,453.6 L601.4,452.5 L602.7,451.5 L604.1,450.4 L605.5,449.4 L606.8,448.4 L608.2,447.3 L609.5,446.3 L610.9,445.3 L612.2,444.3 L613.6,443.3 L614.9,442.3 L616.3,441.3 L617.7,440.3 L619.0,439.4 L620.4,438.4 L621.7,437.5 L623.1,436.5 L624.4,435.6 L625.8,434.6 L627.2,433.7 L628.5,432.8 L629.9,431.8 L631.2,430.9 L632.6,430.0 L633.9,429.1 L635.3,428.2 L636.6,427.3 L638.0,426.4 L639.4,425.6 L640.7,424.7 L642.1,423.8 L643.4,423.0 L644.8,422.1 L646.1,421.3 L647.5,420.4 L648.9,419.6 L650.2,418.8 L651.6,417.9 L652.9,417.1 L654.3,416.3 L655.6,415.5 L657.0,414.7 L658.3,413.9 L659.7,413.1 L661.1,412.3 L662.4,411.6 L663.8,410.8 L665.1,410.0 L666.5,409.3 L667.8,408.5 L669.2,407.8 L670.6,407.0 L671.9,406.3 L673.3,405.6 L674.6,404.8 L676.0,404.1 L677.3,403.4 L678.7,402.7 L680.0,402.0 L681.4,401.3 L682.8,400.6 L684.1,399.9 L685.5,399.2 L686.8,398.6 L688.2,397.9 L689.5,397.2 L690.9,396.6 L692.3,395.9 L693.6,395.3 L695.0,394.6 L696.3,394.0 L697.7,393.3 L699.0,392.7 L700.4,392.1 L701.7,391.5 L703.1,390.9 L704.5,390.2 L705.8,389.6 L707.2,389.0 L708.5,388.5 L709.9,387.9 L711.2,387.3 L712.6,386.7 L714.0,386.1 L715.3,385.6 L716.7,385.0 L718.0,384.4 L719.4,383.9 L720.7,383.3 L722.1,382.8 L723.4,382.2 L724.8,381.7 L726.2,381.2 L727.5,380.7 L728.9,380.1 L730.2,379.6 L731.6,379.1 L732.9,378.6 L734.3,378.1 L735.7,377.6 L737.0,377.1 L738.4,376.6 L739.7,376.1 L741.1,375.6 L742.4,375.2 L743.8,374.7 L745.1,374.2 L746.5,373.8 L747.9,373.3 L749.2,372.9 L750.6,372.4 L751.9,372.0 L753.3,371.5 L754.6,371.1 L756.0,370.7 L757.4,370.2 L758.7,369.8 L760.1,369.4 L761.4,369.0 L762.8,368.6 L764.1,368.2 L765.5,367.8 L766.8,367.4 L768.2,367.0 L769.6,366.6 L770.9,366.2 L772.3,365.8 L773.6,365.4 L775.0,365.1 L776.3,364.7 L777.7,364.3 L779.1,364.0 L780.4,363.6 L781.8,363.3 L783.1,362.9 L784.5,362.6 L785.8,362.2 L787.2,361.9 L788.5,361.6 L789.9,361.2 L791.3,360.9 L792.6,360.6 L794.0,360.3 L795.3,359.9 L796.7,359.6 L798.0,359.3 L799.4,359.0 L800.8,358.7 L802.1,358.4 L803.5,358.1 L804.8,357.8 L806.2,357.6 L807.5,357.3 L808.9,357.0 L810.2,356.7 L811.6,356.5 L813.0,356.2 L814.3,355.9 L815.7,355.7 L817.0,355.4 L818.4,355.2 L819.7,354.9 L821.1,354.7 L822.5,354.4 L823.8,354.2 L825.2,354.0 L826.5,353.7 L827.9,353.5 L829.2,353.3 L830.6,353.1 L831.9,352.8 L833.3,352.6 L834.7,352.4 L836.0,352.2 L837.4,352.0 L838.7,351.8 L840.1,351.6 L841.4,351.4 L842.8,351.2 L844.2,351.0 L845.5,350.8 L846.9,350.7 L848.2,350.5 L849.6,350.3 L850.9,350.1 L852.3,350.0 L853.6,349.8 L855.0,349.6 L856.4,349.5 L857.7,349.3 L859.1,349.2 L860.4,349.0 L861.8,348.9 L863.1,348.7 L864.5,348.6 L865.9,348.5 L867.2,348.3 L868.6,348.2 L869.9,348.1 L871.3,347.9 L872.6,347.8 L874.0,347.7 L875.4,347.6 L876.7,347.5 L878.1,347.4 L879.4,347.3 L880.8,347.2 L882.1,347.0 L883.5,346.9 L884.8,346.9 L886.2,346.8 L887.6,346.7 L888.9,346.6 L890.3,346.5 L891.6,346.4 L893.0,346.3 L894.3,346.3 L895.7,346.2 L897.1,346.1 L898.4,346.0 L899.8,346.0 L901.1,345.9 L902.5,345.9 L903.8,345.8 L905.2,345.7 L906.5,345.7 L907.9,345.6 L909.3,345.6 L910.6,345.6 L912.0,345.5 L913.3,345.5 L914.7,345.4 L916.0,345.4 L917.4,345.4 L918.8,345.3 L920.1,345.3 L921.5,345.3 L922.8,345.3 L924.2,345.2 L925.5,345.2 L926.9,345.2 L928.2,345.2 L929.6,345.2 L931.0,345.2 L932.3,345.2 L933.7,345.2 L935.0,345.2 L936.4,345.2 L937.7,345.2 L939.1,345.2 L940.5,345.2 L941.8,345.2 L943.2,345.2 L944.5,345.3 L945.9,345.3 L947.2,345.3 L948.6,345.3 L949.9,345.4 L951.3,345.4 L952.7,345.4 L954.0,345.5 L955.4,345.5 L956.7,345.5 L958.1,345.6 L959.4,345.6 L960.8,345.7 L962.2,345.7 L963.5,345.8 L964.9,345.8 L966.2,345.9 L967.6,345.9" stroke="#0000ff" stroke-width="3.75" stroke-dasharray="14.3 6.15" stroke-dashoffset="6.40" stroke-linecap="butt"/>
<path d="M138.0,197.7 L138.8,196.1 L139.6,196.3 L140.4,194.5 L141.2,195.5 L142.0,193.9 L142.1,193.9 L142.8,193.8 L143.6,191.7 L144.4,192.2 L145.2,191.3 L146.0,192.2 L146.8,191.2 L147.6,191.5 L147.6,191.5 L148.4,189.7 L149.2,190.2 L150.0,189.0 L150.8,189.9 L151.6,188.9 L151.7,188.8 L152.4,189.9 L153.2,188.0 L153.6,187.9 L154.0,205.5 L154.4,221.9 L154.8,207.1 L155.4,186.8 L155.6,187.2 L156.4,185.8 L157.2,186.0 L158.0,184.6 L158.0,184.6 L158.8,185.0 L159.6,184.0 L159.9,184.0 L160.4,185.1 L161.2,184.9 L162.0,186.5 L162.3,186.6 L162.8,188.5 L163.4,191.3 L163.6,191.9 L164.4,187.6 L164.6,186.8 L165.2,187.4 L166.0,185.3 L166.8,186.0 L167.6,183.8 L168.4,184.2 L169.2,182.5 L170.0,183.4 L170.8,182.4 L171.6,183.7 L172.2,183.4 L172.4,182.0 L173.2,182.3 L174.0,179.4 L174.8,179.8 L175.6,178.2 L176.4,179.7 L177.2,178.4 L178.0,179.3 L178.8,177.6 L179.0,177.4 L179.6,177.9 L180.4,175.6 L181.2,175.2 L182.0,172.9 L182.5,172.4 L182.8,174.4 L183.6,174.9 L184.4,176.8 L185.2,177.0 L186.0,178.7 L186.8,179.0 L187.2,179.6 L187.6,180.7 L188.4,179.9 L189.2,181.4 L190.0,180.6 L190.8,181.8 L191.4,181.5 L191.6,179.7 L192.4,179.3 L193.2,176.8 L194.0,176.4 L194.8,174.4 L195.6,174.6 L196.4,172.1 L196.8,171.6 L197.2,171.8 L198.0,169.5 L198.8,169.0 L199.6,167.3 L200.4,167.6 L201.2,165.9 L202.0,165.9 L202.3,165.5 L202.8,164.0 L203.6,164.1 L204.4,161.9 L205.2,162.2 L206.0,160.7 L206.8,161.1 L207.6,159.1 L208.4,159.2 L209.2,157.2 L210.0,157.6 L210.5,157.1 L210.8,156.9 L211.6,159.6 L212.4,160.9 L213.2,163.2 L214.0,163.6 L214.8,166.2 L215.3,167.0 L215.6,165.3 L216.4,166.2 L217.2,164.5 L218.0,164.9 L218.8,163.5 L219.6,164.8 L220.1,164.5 L220.4,163.5 L221.2,164.8 L222.0,163.1 L222.8,163.6 L223.6,161.2 L224.4,161.5 L225.0,161.3 L225.2,160.1 L226.0,161.3 L226.8,160.0 L227.6,160.8 L228.4,159.7 L229.2,160.6 L230.0,159.2 L230.3,159.2 L230.8,159.7 L231.6,157.4 L232.4,157.6 L233.2,155.1 L233.5,154.5 L234.0,155.5 L234.8,153.8 L235.6,153.9 L236.4,152.3 L237.2,152.4 L237.8,151.8 L238.0,150.8 L238.8,149.8 L239.6,146.9 L240.4,146.2 L241.2,143.2 L241.5,142.6 L242.0,144.8 L242.8,145.3 L243.6,148.5 L244.1,149.8 L244.4,148.4 L245.2,149.0 L246.0,146.8 L246.3,146.3 L246.8,148.9 L247.6,150.3 L248.4,153.8 L248.4,153.8 L249.2,151.9 L250.0,152.4 L250.8,151.0 L251.6,151.6 L252.4,150.1 L252.7,149.9 L253.2,153.4 L254.0,155.4 L254.8,159.3 L254.8,159.3 L255.6,156.7 L256.4,156.5 L256.9,155.7 L257.2,156.3 L258.0,161.3 L258.8,163.4 L259.6,167.3 L259.6,167.3 L260.4,157.9 L261.2,150.8 L262.0,141.8 L262.2,139.8 L262.8,145.7 L263.6,151.0 L264.4,157.8 L264.9,161.5 L265.2,157.2 L266.0,151.2 L266.8,142.7 L267.6,136.9 L267.6,136.9 L268.4,143.1 L268.6,144.8 L269.2,143.8 L270.0,139.2 L270.8,137.0 L271.6,132.5 L272.4,130.0 L272.9,128.0 L273.2,131.7 L273.9,143.9 L274.0,144.2 L274.8,139.5 L275.6,137.9 L276.4,134.3 L277.1,131.5 L277.2,133.6 L278.0,134.7 L278.8,138.1 L279.6,139.2 L280.4,141.9 L280.9,143.3 L281.2,139.9 L282.0,136.1 L282.8,129.9 L283.5,125.9 L283.6,126.2 L284.4,122.4 L285.2,121.0 L285.7,119.2 L286.0,117.3 L286.8,118.3 L287.6,116.3 L288.3,116.1 L288.4,119.0 L289.2,128.7 L289.9,138.0 L290.0,139.0 L290.8,134.9 L291.6,133.3 L292.1,131.4 L292.4,129.9 L293.2,132.2 L294.0,130.6 L294.8,131.5 L295.6,129.2 L295.8,129.1 L296.4,130.9 L297.2,129.8 L298.0,131.8 L298.5,132.0 L298.8,129.5 L299.6,129.7 L300.4,126.2 L301.2,126.3 L301.2,126.3 L302.0,126.9 L302.8,130.7 L303.5,132.9 L303.6,130.1 L304.4,127.5 L305.2,120.3 L305.8,116.7 L306.0,119.0 L306.8,115.6 L307.6,117.2 L308.4,114.2 L309.2,115.5 L310.0,112.7 L310.4,112.3 L310.8,114.9 L311.6,112.2 L312.4,114.5 L313.2,112.2 L314.0,115.1 L314.8,113.9 L315.0,113.9 L315.6,116.7 L316.4,114.4 L317.2,118.6 L318.0,115.8 L318.6,116.0 L318.8,118.2 L319.6,114.8 L320.4,116.2 L321.2,112.3 L322.0,114.4 L322.8,111.4 L323.1,111.1 L323.6,118.5 L324.1,124.0 L324.4,120.1 L325.2,117.6 L325.9,113.4 L326.0,110.6 L326.8,113.7 L327.6,110.2 L328.4,112.7 L329.2,110.2 L330.0,112.3 L330.8,108.8 L331.6,110.5 L332.4,108.1 L333.2,110.8 L333.2,110.8 L334.0,108.1 L334.8,110.6 L335.6,108.1 L336.4,110.2 L337.2,106.7 L338.0,108.6 L338.8,104.3 L339.6,106.2 L340.4,103.4 L341.2,107.1 L342.0,104.3 L342.3,104.2 L342.8,106.4 L343.6,103.3 L344.4,105.5 L345.2,101.7 L346.0,103.2 L346.8,100.0 L346.9,100.0 L347.6,102.6 L348.4,99.4 L349.2,100.7 L350.0,97.9 L350.8,100.5 L351.6,97.0 L352.4,100.5 L353.2,97.0 L354.0,99.7 L354.2,99.6 L354.8,97.5 L355.6,101.2 L356.4,98.2 L357.2,102.1 L358.0,99.4 L358.7,100.1 L358.8,102.7 L359.6,101.6 L360.4,105.1 L361.2,104.3 L362.0,108.7 L362.4,109.3 L362.8,105.7 L363.6,108.0 L363.6,108.0 L364.4,105.0 L365.2,107.8 L366.0,103.6 L366.8,105.3 L367.6,101.0 L368.4,103.1 L369.1,102.4 L369.2,99.8 L370.0,102.4 L370.8,99.5 L371.6,102.6 L372.4,98.5 L373.2,101.9 L374.0,99.0 L374.8,101.3 L375.6,96.9 L376.4,99.9 L377.2,96.2 L378.0,99.7 L378.2,99.6 L378.8,96.2 L379.6,98.4 L380.4,95.1 L381.2,97.2 L382.0,94.9 L382.8,97.1 L383.6,94.1 L384.4,97.2 L385.2,94.7 L386.0,97.5 L386.8,95.5 L387.4,95.5 L387.6,97.4 L388.4,95.6 L389.2,98.6 L390.0,95.9 L390.8,98.8 L391.6,97.0 L392.4,99.6 L393.2,96.6 L393.8,96.7 L394.0,98.2 L394.8,96.3 L395.6,98.1 L396.4,95.7 L397.2,97.2 L398.0,94.2 L398.8,96.3 L399.6,93.8 L400.1,93.5 L400.4,96.3 L401.2,93.1 L402.0,95.5 L402.8,92.5 L403.6,93.8 L404.4,90.0 L405.2,92.8 L405.6,92.7 L406.0,90.7 L406.8,94.3 L407.6,91.4 L408.4,95.6 L409.2,92.6 L410.0,95.1 L410.8,93.1 L411.1,93.2 L411.6,96.4 L412.4,92.4 L413.2,95.1 L414.0,92.4 L414.8,94.1 L415.6,91.7 L416.4,94.4 L416.6,94.4 L417.2,93.3 L418.0,96.6 L418.8,94.3 L419.6,97.6 L420.4,96.3 L420.7,96.6 L421.2,97.5 L422.0,93.9 L422.8,95.0 L423.6,90.9 L423.9,90.3 L424.4,92.8 L425.2,89.5 L426.0,91.8 L426.8,88.3 L427.6,89.9 L428.4,86.4 L428.6,86.3 L429.2,89.9 L430.0,88.9 L430.8,91.5 L431.6,89.7 L432.4,92.9 L433.0,93.2 L433.2,91.2 L434.0,94.6 L434.8,92.3 L435.6,96.7 L435.7,96.8 L436.4,96.0 L437.2,100.8 L438.0,99.5 L438.5,100.8 L438.8,104.3 L439.6,101.4 L440.4,104.7 L440.5,104.7 L441.2,102.2 L442.0,104.9 L442.8,101.2 L443.6,104.6 L444.4,102.5 L445.2,104.8 L446.0,103.4 L446.0,103.4 L446.8,105.8 L447.6,102.2 L448.4,105.5 L449.2,101.6 L450.0,103.9 L450.5,103.6 L450.8,102.9 L451.6,108.4 L452.4,108.6 L453.2,114.4 L453.3,114.8 L454.0,110.8 L454.8,112.8 L455.6,108.3 L456.4,109.7 L456.9,108.7 L457.2,106.2 L458.0,110.0 L458.8,107.2 L459.6,110.3 L460.4,109.3 L461.2,112.6 L461.5,113.0 L462.0,110.8 L462.8,114.2 L463.6,110.9 L464.4,113.3 L465.2,109.3 L466.0,112.1 L466.1,112.1 L466.8,108.3 L467.6,110.3 L468.4,107.3 L469.2,108.9 L469.7,108.5 L470.0,106.4 L470.8,112.0 L471.6,111.3 L472.4,115.7 L472.4,115.7 L473.2,112.2 L474.0,113.9 L474.8,110.7 L475.6,113.1 L476.4,109.2 L477.2,112.3 L477.9,111.8 L478.0,108.4 L478.8,110.9 L479.6,107.6 L480.4,109.9 L481.2,107.1 L482.0,107.9 L482.8,104.3 L483.4,103.8 L483.6,105.8 L484.4,103.4 L485.2,105.7 L486.0,102.9 L486.8,105.7 L487.6,102.7 L488.4,104.5 L488.9,104.3 L489.2,101.9 L490.0,104.1 L490.8,100.6 L491.6,103.4 L492.4,99.6 L493.2,102.9 L494.0,99.8 L494.3,99.6 L494.8,101.3 L495.6,98.1 L496.4,99.7 L497.2,96.7 L498.0,98.8 L498.8,95.5 L499.6,97.2 L500.0,97.0 L500.4,95.0 L501.2,96.6 L502.0,94.5 L502.8,96.7 L503.6,93.2 L503.7,93.1 L504.4,93.7 L505.2,89.1 L506.0,89.1 L506.8,85.2 L507.1,84.6 L507.6,86.5 L508.4,84.2 L509.2,86.4 L510.0,83.8 L510.8,86.7 L511.6,83.2 L511.9,83.0 L512.4,85.9 L513.2,81.4 L514.0,83.5 L514.8,80.5 L515.6,83.0 L516.0,82.7 L516.4,80.0 L517.2,81.2 L518.0,77.3 L518.8,78.7 L519.6,75.6 L520.4,78.7 L521.2,76.2 L522.0,78.7 L522.1,78.6 L522.8,76.7 L523.6,79.9 L524.4,78.8 L525.2,82.5 L525.6,83.0 L526.0,80.0 L526.8,82.8 L527.6,80.0 L528.4,81.7 L529.2,78.3 L530.0,79.9 L530.8,77.2 L531.0,77.1 L531.6,81.6 L532.4,81.1 L533.2,85.2 L534.0,84.0 L534.8,88.5 L535.1,89.0 L535.6,88.3 L536.4,92.5 L537.2,91.7 L538.0,94.7 L538.8,92.3 L539.2,92.9 L539.6,96.6 L540.4,94.0 L541.2,97.1 L542.0,95.2 L542.8,99.7 L543.6,97.4 L544.4,101.0 L544.7,101.4 L545.2,99.5 L546.0,102.7 L546.8,101.8 L547.6,105.6 L548.4,103.7 L549.2,107.6 L550.0,106.8 L550.8,110.8 L551.6,109.2 L551.6,109.2 L552.4,112.9 L553.2,110.8 L554.0,113.9 L554.8,111.8 L555.6,115.9 L556.4,114.4 L557.2,117.6 L558.0,116.8 L558.4,117.3 L558.8,119.8 L559.6,118.3 L560.4,122.4 L561.2,119.4 L562.0,123.9 L562.8,121.6 L563.6,125.6 L564.4,123.5 L565.2,127.3 L565.2,127.3 L566.0,125.4 L566.8,128.9 L567.6,127.1 L568.4,131.1 L569.2,129.4 L570.0,133.4 L570.8,132.1 L571.6,135.6 L572.1,136.2 L572.4,132.4 L573.2,133.5 L574.0,129.7 L574.1,129.4 L574.8,131.7 L575.6,129.2 L576.4,132.6 L577.2,131.0 L578.0,134.7 L578.8,133.2 L579.1,133.5 L579.6,136.8 L580.4,134.1 L581.2,137.7 L582.0,134.2 L582.8,137.5 L583.6,134.4 L584.4,137.8 L585.2,135.0 L586.0,137.5 L586.8,134.8 L587.6,138.2 L588.2,138.4 L588.4,135.9 L589.2,139.0 L590.0,137.7 L590.8,141.3 L591.6,139.1 L592.4,141.8 L593.2,138.3 L594.0,140.9 L594.8,139.3 L595.6,142.3 L596.4,141.0 L597.2,144.1 L597.3,144.2 L598.0,141.7 L598.8,145.5 L599.6,142.3 L600.4,146.2 L601.2,143.4 L602.0,148.1 L602.8,145.6 L603.6,149.3 L604.4,147.7 L605.2,150.1 L606.0,146.8 L606.5,147.0 L606.8,149.3 L607.6,146.0 L608.4,148.7 L609.2,146.5 L610.0,150.6 L610.8,148.1 L611.6,150.0 L612.4,146.8 L613.2,149.6 L614.0,147.5 L614.8,150.5 L615.6,148.0 L615.6,148.0 L616.4,149.9 L617.2,147.9 L618.0,150.1 L618.8,147.7 L619.6,151.6 L620.4,148.0 L621.2,150.5 L622.0,147.1 L622.8,149.5 L623.6,146.6 L624.4,150.1 L624.7,150.1 L625.2,147.4 L626.0,150.3 L626.8,148.0 L627.6,150.1 L628.4,147.4 L629.2,149.7 L630.0,146.9 L630.8,149.3 L631.6,147.5 L632.4,150.9 L633.2,147.9 L633.8,147.9 L634.0,150.0 L634.8,146.6 L635.6,150.0 L636.4,146.6 L637.2,149.9 L638.0,146.0 L638.8,149.2 L639.6,146.0 L640.4,149.8 L641.2,147.1 L642.0,151.3 L642.8,148.7 L642.9,148.7 L643.6,152.2 L644.4,149.3 L645.2,151.8 L646.0,147.9 L646.8,150.0 L647.6,147.5 L648.4,150.1 L649.2,147.5 L650.0,151.5 L650.8,148.1 L651.1,148.1 L651.6,154.0 L652.4,155.9 L653.0,159.0 L653.2,162.2 L654.0,159.4 L654.8,163.7 L655.6,160.8 L656.4,164.3 L656.6,164.5 L657.2,163.6 L658.0,168.2 L658.8,166.5 L659.6,169.9 L660.4,168.9 L661.2,172.4 L662.0,170.2 L662.8,172.9 L663.6,170.9 L664.4,174.9 L665.2,174.8 L666.0,178.7 L666.3,179.1 L666.8,178.0 L667.6,181.5 L668.4,178.8 L669.2,182.1 L670.0,180.2 L670.8,184.1 L671.6,182.6 L672.4,185.7 L673.2,184.3 L674.0,188.0 L674.8,186.4 L675.6,190.1 L676.4,187.0 L676.9,187.6 L677.2,190.9 L678.0,188.5 L678.8,191.4 L679.6,191.1 L680.4,195.2 L681.2,192.9 L682.0,196.1 L682.2,196.3 L682.8,199.5 L683.6,211.3 L684.4,216.0 L684.4,216.0 L685.2,218.6 L686.0,216.0 L686.8,218.3 L687.6,216.0 L688.4,219.3 L689.2,216.8 L690.0,219.5 L690.8,216.2 L691.6,218.1 L691.8,218.1 L692.4,215.8 L693.2,218.8 L694.0,215.8 L694.8,219.2 L695.6,216.2 L696.4,219.2 L697.2,216.6 L698.0,218.2 L698.2,218.2 L698.8,214.5 L699.6,216.7 L700.4,212.2 L701.2,214.1 L702.0,210.4 L702.4,209.8 L702.8,213.2 L703.6,213.2 L704.4,217.1 L705.2,217.0 L705.6,218.2 L706.0,221.3 L706.8,218.0 L707.6,220.1 L708.4,218.0 L709.2,220.3 L710.0,217.7 L710.8,220.9 L711.6,218.2 L712.4,220.8 L713.2,218.0 L714.0,220.0 L714.8,217.8 L715.6,220.0 L716.4,217.5 L717.2,219.6 L718.0,218.0 L718.8,219.9 L719.5,219.8 L719.6,217.7 L720.4,219.4 L721.2,217.8 L722.0,220.8 L722.8,219.4 L723.6,222.5 L724.4,221.0 L725.2,223.1 L725.9,223.6 L726.0,222.5 L726.8,224.5 L727.6,223.3 L728.4,225.6 L729.2,223.9 L730.0,226.7 L730.8,225.7 L731.6,228.0 L732.4,225.4 L733.2,227.5 L734.0,225.6 L734.8,227.9 L735.6,226.3 L736.2,226.6 L736.4,228.4 L737.2,227.1 L738.0,228.8 L738.8,226.4 L739.6,228.9 L740.4,227.5 L741.2,229.4 L742.0,227.7 L742.8,229.8 L743.6,228.8 L744.4,230.5 L745.2,229.6 L745.4,229.6 L746.0,231.1 L746.8,229.7 L747.6,232.3 L748.4,230.3 L749.2,232.8 L750.0,231.4 L750.8,233.9 L751.6,232.3 L752.4,235.1 L753.2,233.3 L754.0,235.0 L754.5,235.2 L754.8,232.9 L755.6,234.9 L756.4,232.9 L757.2,234.6 L758.0,233.6 L758.8,235.5 L759.6,234.0 L760.4,236.0 L761.2,234.2 L762.0,236.7 L762.8,235.2 L763.6,237.1 L764.4,235.5 L765.2,237.9 L766.0,236.7 L766.8,239.0 L767.6,237.3 L768.4,238.7 L769.2,236.6 L770.0,238.6 L770.8,237.2 L771.6,239.0 L772.4,237.4 L772.7,237.5 L773.2,239.5 L774.0,237.6 L774.8,239.5 L775.6,238.3 L776.4,239.9 L777.2,238.3 L778.0,240.1 L778.8,238.7 L779.6,241.8 L780.4,239.9 L781.2,241.8 L782.0,239.7 L782.8,241.2 L783.6,239.3 L784.4,242.0 L785.2,240.6 L786.0,242.8 L786.8,240.6 L787.6,241.2 L788.4,239.4 L789.2,240.7 L790.0,239.3 L790.8,241.4 L791.0,241.4 L791.6,239.9 L792.4,241.7 L793.2,240.4 L794.0,242.9 L794.8,241.5 L795.6,243.0 L796.4,240.8 L797.2,242.7 L798.0,241.6 L798.8,243.9 L799.6,241.9 L800.4,243.9 L801.2,242.1 L802.0,244.8 L802.8,242.7 L803.6,244.7 L804.4,242.7 L805.2,244.9 L806.0,242.3 L806.8,244.4 L807.6,242.0 L808.4,244.4 L809.2,242.5 L809.2,242.5 L810.0,245.2 L810.8,244.1 L811.6,245.7 L812.4,244.1 L813.2,246.0 L814.0,243.8 L814.8,245.4 L815.6,243.9 L816.4,246.6 L817.2,245.3 L818.0,247.3 L818.8,246.0 L819.6,247.5 L820.4,245.1 L821.2,246.7 L822.0,244.4 L822.8,246.3 L823.6,244.8 L824.4,247.8 L825.2,246.6 L826.0,249.6 L826.8,248.2 L827.5,248.4 L827.6,249.5 L828.4,247.8 L829.2,249.8 L830.0,247.7 L830.8,249.7 L831.6,248.9 L832.4,250.5 L833.2,248.2 L834.0,249.2 L834.8,247.3 L835.6,249.6 L836.4,247.2 L837.2,248.8 L838.0,246.6 L838.8,248.8 L839.6,247.7 L840.4,249.3 L841.2,247.9 L842.0,250.5 L842.8,248.3 L843.6,250.9 L844.4,248.5 L845.2,250.4 L845.7,250.5 L846.0,248.6 L846.8,251.0 L847.6,249.8 L848.4,252.3 L849.2,251.2 L850.0,252.8 L850.8,250.8 L851.6,253.1 L852.4,251.5 L853.2,254.1 L854.0,252.6 L854.8,254.9 L855.6,252.9 L856.4,254.5 L857.2,251.7 L858.0,253.2 L858.8,250.9 L859.6,253.0 L860.4,252.2 L861.2,254.2 L862.0,252.4 L862.8,255.2 L863.6,253.3 L864.4,256.3 L865.2,254.2 L866.0,256.0 L866.8,253.9 L867.4,254.1 L867.6,256.2 L868.4,255.1 L869.2,257.7 L870.0,257.3 L870.8,259.3 L871.6,258.9 L872.4,261.5 L873.2,259.8 L874.0,262.3 L874.8,260.2 L875.6,262.4 L876.4,261.9 L877.2,264.2 L878.0,263.1 L878.4,263.4 L878.8,265.0 L879.6,264.2 L880.4,266.6 L881.2,265.6 L882.0,267.5 L882.8,266.2 L883.6,268.0 L884.4,267.0 L885.2,269.3 L886.0,267.3 L886.8,269.3 L887.5,269.7 L887.6,267.6 L888.4,269.7 L889.2,269.1 L890.0,272.1 L890.8,270.4 L891.6,272.3 L892.4,270.9 L893.2,273.2 L894.0,272.0 L894.8,274.0 L895.6,272.4 L896.4,274.3 L897.2,273.1 L898.0,276.0 L898.8,274.6 L899.6,277.5 L900.4,276.6 L901.2,278.5 L902.0,277.7 L902.1,277.8 L902.8,278.9 L903.6,277.1 L904.4,278.6 L905.2,277.5 L906.0,279.7 L906.8,278.2 L907.6,280.2 L908.4,278.5 L909.2,280.6 L910.0,279.4 L910.8,282.1 L911.6,280.7 L912.4,282.9 L913.2,282.0 L914.0,284.0 L914.8,282.8 L914.9,282.8 L915.6,284.3 L916.4,282.9 L917.2,284.5 L918.0,283.1 L918.8,285.3 L919.6,283.9 L920.4,285.2 L921.2,283.3 L922.0,285.4 L922.8,284.4 L923.6,285.9 L924.4,284.4 L925.2,286.8 L926.0,285.2 L926.8,287.3 L927.6,285.8 L928.4,288.0 L929.2,287.4 L930.0,289.5 L930.8,287.9 L931.6,290.8 L932.4,288.5 L933.1,288.7 L933.2,290.5 L934.0,288.0 L934.8,290.2 L935.6,289.4 L936.4,292.2 L937.2,290.9 L938.0,292.6 L938.8,290.0 L939.6,291.8 L940.4,290.5 L941.2,292.6 L942.0,291.6 L942.8,293.9 L943.6,292.6 L944.4,294.4 L945.2,292.2 L946.0,294.4 L946.8,293.1 L947.6,294.3 L948.4,292.8 L949.2,294.6 L950.0,293.5 L950.8,295.9 L951.4,296.1 L951.6,294.4 L952.4,296.1 L953.2,294.3 L954.0,296.1 L954.8,293.7 L955.6,295.9 L956.4,294.2 L957.2,296.4 L958.0,295.6 L958.8,298.0 L959.6,296.1 L960.4,298.2 L961.2,296.1 L962.0,298.3 L962.8,296.2 L963.6,298.7 L964.4,296.9 L965.2,298.7 L966.0,297.4 L966.8,299.6 L966.9,299.6" stroke="#000000" stroke-width="3.75" stroke-linecap="square"/>
</g>
<line x1="322.10" y1="571.2" x2="322.10" y2="562.45" stroke="#000" stroke-width="2"/><line x1="597.71" y1="571.2" x2="597.71" y2="562.45" stroke="#000" stroke-width="2"/><line x1="758.93" y1="571.2" x2="758.93" y2="562.45" stroke="#000" stroke-width="2"/><line x1="873.32" y1="571.2" x2="873.32" y2="562.45" stroke="#000" stroke-width="2"/><line x1="962.05" y1="571.2" x2="962.05" y2="562.45" stroke="#000" stroke-width="2"/><line x1="180.28" y1="571.2" x2="180.28" y2="566.20" stroke="#000" stroke-width="1.5"/><line x1="233.37" y1="571.2" x2="233.37" y2="566.20" stroke="#000" stroke-width="1.5"/><line x1="280.21" y1="571.2" x2="280.21" y2="566.20" stroke="#000" stroke-width="1.5"/><line x1="138.4" y1="470.40" x2="147.90" y2="470.40" stroke="#000" stroke-width="2"/><line x1="138.4" y1="135.05" x2="147.90" y2="135.05" stroke="#000" stroke-width="2"/><line x1="138.4" y1="544.80" x2="144.10" y2="544.80" stroke="#000" stroke-width="1.5"/><line x1="138.4" y1="522.35" x2="144.10" y2="522.35" stroke="#000" stroke-width="1.5"/><line x1="138.4" y1="502.90" x2="144.10" y2="502.90" stroke="#000" stroke-width="1.5"/><line x1="138.4" y1="485.74" x2="144.10" y2="485.74" stroke="#000" stroke-width="1.5"/><line x1="138.4" y1="369.45" x2="144.10" y2="369.45" stroke="#000" stroke-width="1.5"/><line x1="138.4" y1="310.40" x2="144.10" y2="310.40" stroke="#000" stroke-width="1.5"/><line x1="138.4" y1="268.50" x2="144.10" y2="268.50" stroke="#000" stroke-width="1.5"/><line x1="138.4" y1="236.00" x2="144.10" y2="236.00" stroke="#000" stroke-width="1.5"/><line x1="138.4" y1="209.45" x2="144.10" y2="209.45" stroke="#000" stroke-width="1.5"/><line x1="138.4" y1="187.00" x2="144.10" y2="187.00" stroke="#000" stroke-width="1.5"/><line x1="138.4" y1="167.55" x2="144.10" y2="167.55" stroke="#000" stroke-width="1.5"/><line x1="138.4" y1="150.39" x2="144.10" y2="150.39" stroke="#000" stroke-width="1.5"/><line x1="138.4" y1="34.10" x2="144.10" y2="34.10" stroke="#000" stroke-width="1.5"/>
<rect x="139" y="1" width="861" height="570" fill="none" stroke="#000" stroke-width="2"/>
<!-- legend -->
<rect x="706.4" y="13.9" width="280.7" height="150.4" rx="4.6" ry="4.6" fill="#fff" fill-opacity="0.8" stroke="#d0d0d0" stroke-width="2.1"/>
<line x1="717" y1="33" x2="768.5" y2="33" stroke="#808080" stroke-width="3.75" stroke-linecap="square"/>
<line x1="717" y1="68.8" x2="768.5" y2="68.8" stroke="#ff0000" stroke-width="3.75" stroke-linecap="square"/>
<line x1="716.8" y1="104.7" x2="768.6" y2="104.7" stroke="#0000ff" stroke-width="3.75" stroke-dasharray="14.4 5.9"/>
<line x1="717" y1="140.7" x2="768.5" y2="140.7" stroke="#000" stroke-width="3.75" stroke-linecap="square"/>
<text x="789.6" y="42.8" font-size="26.5" textLength="186.4" lengthAdjust="spacingAndGlyphs">2015-01-15 SpeX</text>
<text x="789.6" y="77.9" font-size="27" textLength="129.3" lengthAdjust="spacingAndGlyphs">Active Disk</text>
<text x="789.6" y="113.6" font-size="27" textLength="138.9" lengthAdjust="spacingAndGlyphs">Passive Disk</text>
<text x="789.6" y="150.2" font-size="27" textLength="117.9" lengthAdjust="spacingAndGlyphs">Total Flux</text>
<!-- x tick labels -->
<text x="322" y="604.9" font-size="36" text-anchor="middle">1</text>
<text x="597.7" y="604.9" font-size="36" text-anchor="middle">2</text>
<text x="758.9" y="604.9" font-size="36" text-anchor="middle">3</text>
<text x="873.3" y="604.9" font-size="36" text-anchor="middle">4</text>
<text x="962" y="604.9" font-size="36" text-anchor="middle">5</text>
<!-- y tick labels -->
<text x="62.6" y="148.2" font-size="37" textLength="35.2" lengthAdjust="spacingAndGlyphs">10</text>
<rect x="99" y="127.4" width="15.7" height="1.7"/>
<text x="117" y="135.1" font-size="25" textLength="13" lengthAdjust="spacingAndGlyphs">9</text>
<text x="49.7" y="483.5" font-size="37" textLength="35.5" lengthAdjust="spacingAndGlyphs">10</text>
<rect x="86.2" y="462.7" width="15.9" height="1.7"/>
<text x="105" y="470.5" font-size="25" textLength="25" lengthAdjust="spacingAndGlyphs">10</text>
<!-- x label -->
<text x="440.2" y="649.7" font-size="37" textLength="177" lengthAdjust="spacingAndGlyphs">Wavelength</text>
<text x="630.5" y="649.7" font-size="38">[</text>
<text x="638" y="649.7" font-size="37" font-style="italic" textLength="22" lengthAdjust="spacingAndGlyphs">μ</text>
<text x="660.5" y="649.7" font-size="37" textLength="29" lengthAdjust="spacingAndGlyphs">m</text>
<text x="687.5" y="649.7" font-size="38">]</text>
<!-- y label pieces -->
<text transform="translate(30.9,428.5) rotate(-90)" font-size="37" textLength="40" lengthAdjust="spacingAndGlyphs">λF</text>
<text transform="translate(35.4,386) rotate(-90)" font-size="26" textLength="13" lengthAdjust="spacingAndGlyphs">λ</text>
<text transform="translate(30.9,349.2) rotate(-90)" font-size="37" textLength="47" lengthAdjust="spacingAndGlyphs">erg</text>
<text transform="translate(30.9,289) rotate(-90)" font-size="37" textLength="43.5" lengthAdjust="spacingAndGlyphs">cm</text>
<rect x="9.2" y="227.8" width="1.7" height="15"/>
<text transform="translate(16.7,224) rotate(-90)" font-size="24" textLength="16.5" lengthAdjust="spacingAndGlyphs">2</text>
<text transform="translate(30.9,199) rotate(-90)" font-size="37" textLength="12.5" lengthAdjust="spacingAndGlyphs">s</text>
<rect x="9.2" y="167.6" width="1.7" height="15.9"/>
<text transform="translate(16.7,163) rotate(-90)" font-size="25" textLength="10" lengthAdjust="spacingAndGlyphs">1</text>
<path d="M3,351.2 V353.5 H39 V351.2 M3,148.6 V146.6 H39 V148.6" fill="none" stroke="#000" stroke-width="1.5"/>

</svg>
</body></html>
